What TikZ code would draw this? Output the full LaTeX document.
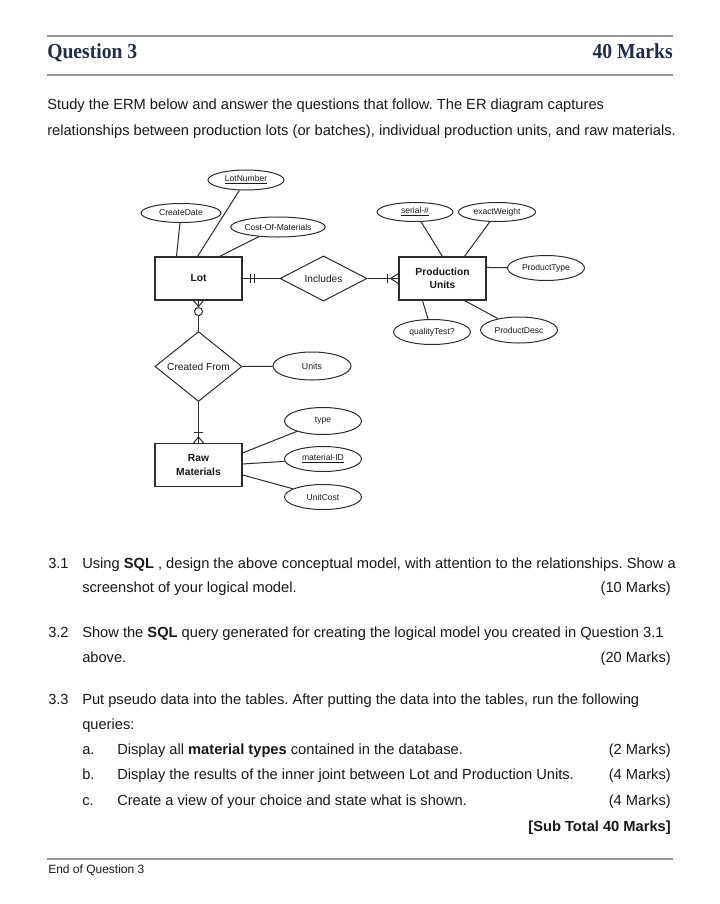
\documentclass[tikz,border=0pt]{standalone}
\usepackage{fontspec}
\setmainfont{Liberation Sans}
\newfontfamily\headfont[FakeStretch=0.92]{Liberation Serif}
\usetikzlibrary{shapes.geometric,calc}
\definecolor{navy}{RGB}{31,45,75}
\definecolor{rulegray}{RGB}{150,150,150}
\definecolor{dg}{RGB}{45,45,45}
\definecolor{txt}{RGB}{25,25,25}
\frenchspacing
\begin{document}
\begin{tikzpicture}[x=0.75pt,y=-0.75pt,
  attr/.style={ellipse, draw=dg, line width=0.75pt, inner sep=0pt, font=\fontsize{6.4}{7}\selectfont, text=txt},
  ent/.style={rectangle, draw=dg, line width=0.8pt, inner sep=0pt, align=center, font=\bfseries\fontsize{7.7}{10}\selectfont, text=txt, minimum width=87*0.75pt, minimum height=43*0.75pt},
  rel/.style={diamond, draw=dg, line width=0.75pt, inner sep=0pt, font=\fontsize{7.6}{9}\selectfont, text=txt, minimum width=87*0.75pt, minimum height=43*0.75pt},
  con/.style={draw=dg, line width=0.75pt},
  body/.style={inner sep=0pt, font=\fontsize{11}{13}\selectfont, text=txt},
  hrule/.style={draw=rulegray, line width=1.5pt},
]
\useasboundingbox (0,0) rectangle (720,904);
\fill[white] (0,0) rectangle (720,904);

% header
\coordinate (r1a) at (47,36); \coordinate (r1b) at (673,36);
\coordinate (r2a) at (47,75); \coordinate (r2b) at (673,75);
\draw[hrule] (r1a) -- (r1b);
\draw[hrule] (r2a) -- (r2b);
\node[anchor=base west, inner sep=0pt, font=\headfont\bfseries\fontsize{16}{18}\selectfont, text=navy] (qtitle) at (47,58) {Question 3};
\node[anchor=base east, inner sep=0pt, font=\headfont\bfseries\fontsize{16}{18}\selectfont, text=navy] (qmarks) at (673,58) {40 Marks};

\node[body, anchor=base west] (intro1) at (47,109) {Study the ERM below and answer the questions that follow. The ER diagram captures};
\node[body, anchor=base west] (intro2) at (47,135) {relationships between production lots (or batches), individual production units, and raw materials.};

% ---------- ER diagram ----------
\node[ent] (lot) at (198.5,278.5) {Lot};
\node[ent] (pu) at (442.5,278.5) {Production\\Units};
\node[ent] (rm) at (198.5,465) {Raw\\Materials};

\node[rel] (incl) at (323.5,278.5) {Includes};
\node[rel] (cfrom) at (198.5,366.5) {Created From};

\node[attr, minimum width=76*0.75pt, minimum height=20*0.75pt] (lotnum) at (246,180) {\underline{LotNumber}};
\node[attr, minimum width=80*0.75pt, minimum height=19*0.75pt] (cdate) at (181,213) {CreateDate};
\node[attr, minimum width=78*0.75pt, minimum height=20*0.75pt] (cost) at (278,227) {Cost-Of-Materials};

\node[attr, minimum width=76*0.75pt, minimum height=19*0.75pt] (serial) at (415,212) {\underline{serial-\#}};
\node[attr, minimum width=77*0.75pt, minimum height=19*0.75pt] (weight) at (497,212) {exactWeight};
\node[attr, minimum width=77*0.75pt, minimum height=25*0.75pt] (ptype) at (546,268) {ProductType};
\node[attr, minimum width=77*0.75pt, minimum height=25*0.75pt] (qtest) at (432,332) {qualityTest?};
\node[attr, minimum width=77*0.75pt, minimum height=26*0.75pt] (pdesc) at (519,330) {ProductDesc};

\node[attr, minimum width=78*0.75pt, minimum height=28*0.75pt, font=\fontsize{6.6}{7}\selectfont] (units) at (312,366) {Units};
\node[attr, minimum width=77*0.75pt, minimum height=27*0.75pt] (type) at (323,421) {type};
\node[attr, minimum width=77*0.75pt, minimum height=25*0.75pt] (matid) at (323,459) {\underline{material-ID}};
\node[attr, minimum width=77*0.75pt, minimum height=25*0.75pt] (ucost) at (323,497) {UnitCost};

% attribute connectors
\draw[con] (cdate) -- ($(lot.north west)+(22,0)$);
\draw[con] (lotnum) -- ($(lot.north west)+(43,0)$);
\draw[con] (cost) -- ($(lot.north west)+(65,0)$);

\draw[con] (serial) -- ($(pu.north west)+(44,0)$);
\draw[con] (weight) -- ($(pu.north west)+(66,0)$);
\draw[con] ($(pu.north east)+(0,11)$) -- (ptype);
\draw[con] ($(pu.south west)+(24,0)$) -- (qtest);
\draw[con] ($(pu.south west)+(66,0)$) -- (pdesc);

\draw[con] (cfrom.east) -- (units);
\draw[con] ($(rm.north east)+(0,10)$) -- (type);
\draw[con] ($(rm.north east)+(0,21)$) -- (matid);
\draw[con] ($(rm.north east)+(0,32)$) -- (ucost);

% relationship connectors
\draw[con] (lot.east) -- (incl.west);
\draw[con] ($(lot.east)+(8,-4.5)$) -- ($(lot.east)+(8,4.5)$);
\draw[con] ($(lot.east)+(12,-4.5)$) -- ($(lot.east)+(12,4.5)$);

\draw[con] (incl.east) -- (pu.west);
\draw[con] ($(pu.west)+(-11,-4.5)$) -- ($(pu.west)+(-11,4.5)$);
\draw[con] ($(pu.west)+(-8,0)$) -- ($(pu.west)+(0,-5)$);
\draw[con] ($(pu.west)+(-8,0)$) -- ($(pu.west)+(0,5)$);

\draw[con] (lot.south) -- (cfrom.north);
\draw[con] ($(lot.south)+(0,6)$) -- ($(lot.south)+(-5,0)$);
\draw[con] ($(lot.south)+(0,6)$) -- ($(lot.south)+(5,0)$);
\draw[con, fill=white] ($(lot.south)+(0,11)$) circle[radius=4];

\draw[con] (cfrom.south) -- (rm.north);
\draw[con] ($(rm.north)+(-4.5,-10)$) -- ($(rm.north)+(4.5,-10)$);
\draw[con] ($(rm.north)+(0,-6)$) -- ($(rm.north)+(-5,0)$);
\draw[con] ($(rm.north)+(0,-6)$) -- ($(rm.north)+(5,0)$);

% ---------- questions ----------
\node[body, anchor=base west] (n31) at (48,568) {3.1};
\node[body, anchor=base west] (q31a) at (82,568) {Using \textbf{SQL} , design the above conceptual model, with attention to the relationships. Show a};
\node[body, anchor=base west] (q31b) at (82,592) {screenshot of your logical model.};
\node[body, anchor=base east] (m31) at (671,592) {(10 Marks)};

\node[body, anchor=base west] (n32) at (48,637) {3.2};
\node[body, anchor=base west] (q32a) at (82,637) {Show the \textbf{SQL} query generated for creating the logical model you created in Question 3.1};
\node[body, anchor=base west] (q32b) at (82,662) {above.};
\node[body, anchor=base east] (m32) at (671,662) {(20 Marks)};

\node[body, anchor=base west] (n33) at (48,704) {3.3};
\node[body, anchor=base west] (q33a) at (82,704) {Put pseudo data into the tables. After putting the data into the tables, run the following};
\node[body, anchor=base west] (q33b) at (82,729) {queries:};

\node[body, anchor=base west] (la) at (82,754) {a.};
\node[body, anchor=base west] (qa) at (117,754) {Display all \textbf{material types} contained in the database.};
\node[body, anchor=base east] (ma) at (671,754) {(2 Marks)};
\node[body, anchor=base west] (lb) at (82,779) {b.};
\node[body, anchor=base west] (qb) at (117,779) {Display the results of the inner joint between Lot and Production Units.};
\node[body, anchor=base east] (mb) at (671,779) {(4 Marks)};
\node[body, anchor=base west] (lc) at (82,805) {c.};
\node[body, anchor=base west] (qc) at (117,805) {Create a view of your choice and state what is shown.};
\node[body, anchor=base east] (mc) at (671,805) {(4 Marks)};

\node[body, anchor=base east, font=\bfseries\fontsize{11}{13}\selectfont] (sub) at (671,831) {[Sub Total 40 Marks]};

\coordinate (r3a) at (47,859); \coordinate (r3b) at (673,859);
\draw[draw=rulegray, line width=0.8pt] (r3a) -- (r3b);
\node[anchor=base west, inner sep=0pt, font=\fontsize{9}{11}\selectfont, text=txt] (endq) at (48,873) {End of Question 3};
\end{tikzpicture}
\end{document}
